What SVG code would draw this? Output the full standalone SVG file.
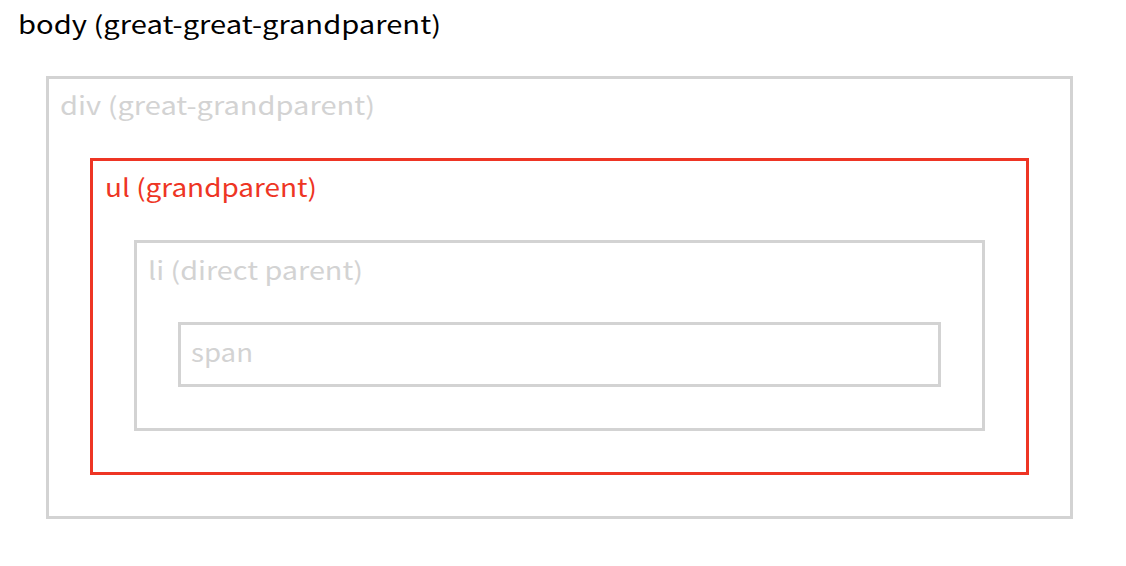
<svg xmlns="http://www.w3.org/2000/svg" width="1126" height="566" viewBox="0 0 1126 566">
<style>
text{font-family:"Noto Sans CJK KR","Noto Sans",sans-serif;font-size:24.5px}
.box{fill:none;stroke:#d3d3d3;stroke-width:3}
.g{fill:#d3d3d3}
.red{fill:none;stroke:#ee3524;stroke-width:3}
</style>
<rect width="1126" height="566" fill="#ffffff"/>
<g id="body"><text x="18" y="33.5" fill="#000000" textLength="423" lengthAdjust="spacingAndGlyphs">body (great-great-grandparent)</text></g>
<g id="div"><rect class="box" x="47.5" y="77.5" width="1024" height="440"/><text class="g" x="60" y="115" textLength="315" lengthAdjust="spacingAndGlyphs">div (great-grandparent)</text></g>
<g id="ul"><rect class="red" x="91.5" y="159.5" width="936" height="314"/><text x="105" y="197" fill="#ee3524" textLength="212" lengthAdjust="spacingAndGlyphs">ul (grandparent)</text></g>
<g id="li"><rect class="box" x="135.5" y="241.5" width="848" height="188"/><text class="g" x="148" y="279.5" textLength="215" lengthAdjust="spacingAndGlyphs">li (direct parent)</text></g>
<g id="span"><rect class="box" x="179.5" y="323.5" width="760" height="62"/><text class="g" x="191" y="361.5" textLength="62" lengthAdjust="spacingAndGlyphs">span</text></g>
<g id="connectors"/>
</svg>
